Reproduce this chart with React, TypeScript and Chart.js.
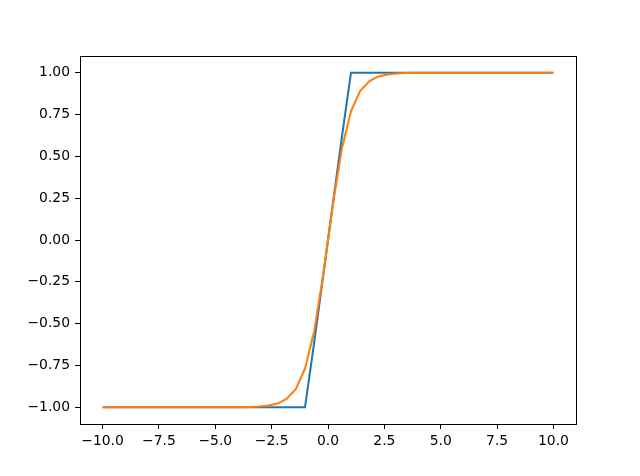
import React, { useEffect, useRef } from "react";
import { Chart, registerables } from "chart.js";

Chart.register(...registerables);

const xValues = [
  -10, -9.592, -9.184, -8.776, -8.367, -7.959, -7.551, -7.143, -6.735, -6.327,
  -5.918, -5.51, -5.102, -4.694, -4.286, -3.878, -3.469, -3.061, -2.653, -2.245,
  -1.837, -1.429, -1.02, -0.612, -0.204, 0.204, 0.612, 1.02, 1.429, 1.837,
  2.245, 2.653, 3.061, 3.469, 3.878, 4.286, 4.694, 5.102, 5.51, 5.918,
  6.327, 6.735, 7.143, 7.551, 7.959, 8.367, 8.776, 9.184, 9.592, 10,
];

const hardTanhValues = [
  -1, -1, -1, -1, -1, -1, -1, -1, -1, -1,
  -1, -1, -1, -1, -1, -1, -1, -1, -1, -1,
  -1, -1, -1, -0.612, -0.204, 0.204, 0.612, 1, 1, 1,
  1, 1, 1, 1, 1, 1, 1, 1, 1, 1,
  1, 1, 1, 1, 1, 1, 1, 1, 1, 1,
];

const tanhValues = [
  -1, -1, -1, -1, -1, -1, -1, -1, -1, -1,
  -1, -1, -0.9999, -0.9998, -0.9996, -0.9991, -0.9981, -0.9956, -0.9901, -0.9778,
  -0.9506, -0.8914, -0.7699, -0.5456, -0.2013, 0.2013, 0.5456, 0.7699, 0.8914, 0.9506,
  0.9778, 0.9901, 0.9956, 0.9981, 0.9991, 0.9996, 0.9998, 0.9999, 1, 1,
  1, 1, 1, 1, 1, 1, 1, 1, 1, 1,
];

const xTicks = [-10, -7.5, -5, -2.5, 0, 2.5, 5, 7.5, 10];
const yTicks = [-1, -0.75, -0.5, -0.25, 0, 0.25, 0.5, 0.75, 1];

const fmt = (v: number, d: number) => v.toFixed(d).replace("-", "\u2212");

const boxPlugin = {
  id: "box",
  afterDraw(chart: any) {
    const { ctx, chartArea } = chart;
    ctx.save();
    ctx.strokeStyle = "#000";
    ctx.lineWidth = 1;
    ctx.strokeRect(
      Math.round(chartArea.left) + 0.5,
      Math.round(chartArea.top) + 0.5,
      Math.round(chartArea.right - chartArea.left),
      Math.round(chartArea.bottom - chartArea.top)
    );
    ctx.restore();
  },
};

export default function App() {
  const ref = useRef<HTMLCanvasElement | null>(null);

  useEffect(() => {
    document.body.style.margin = "0";
    const canvas = ref.current;
    if (!canvas) return;
    const font = { family: "DejaVu Sans", size: 13.9 };
    const chart = new Chart(canvas, {
      type: "scatter",
      data: {
        datasets: [
          {
            data: xValues.map((x, i) => ({ x, y: hardTanhValues[i] })),
            showLine: true,
            borderColor: "#1f77b4",
            backgroundColor: "#1f77b4",
            borderWidth: 2.08,
            pointRadius: 0,
            pointHoverRadius: 0,
            order: 1,
          },
          {
            data: xValues.map((x, i) => ({ x, y: tanhValues[i] })),
            showLine: true,
            borderColor: "#ff7f0e",
            backgroundColor: "#ff7f0e",
            borderWidth: 2.08,
            pointRadius: 0,
            pointHoverRadius: 0,
            order: 0,
          },
        ],
      },
      plugins: [boxPlugin],
      options: {
        animation: false,
        responsive: false,
        devicePixelRatio: 1,
        layout: { padding: { left: 0, top: 56, right: 64, bottom: 0 } },
        plugins: { legend: { display: false }, tooltip: { enabled: false } },
        scales: {
          x: {
            type: "linear",
            min: -11,
            max: 11,
            afterBuildTicks: (s: any) => {
              s.ticks = xTicks.map((v) => ({ value: v }));
            },
            afterFit: (s: any) => {
              s.height = 52;
            },
            ticks: {
              callback: (v: any) => fmt(Number(v), 1),
              color: "#000",
              font,
              padding: 4,
              maxRotation: 0,
              autoSkip: false,
            },
            grid: {
              display: true,
              drawOnChartArea: false,
              drawTicks: true,
              tickLength: 5,
              tickColor: "#000",
              tickWidth: 1,
            },
            border: { display: true, color: "#000", width: 1 },
          },
          y: {
            type: "linear",
            min: -1.1,
            max: 1.1,
            afterBuildTicks: (s: any) => {
              s.ticks = yTicks.map((v) => ({ value: v }));
            },
            afterFit: (s: any) => {
              s.width = 80;
            },
            ticks: {
              callback: (v: any) => fmt(Number(v), 2),
              color: "#000",
              font,
              padding: 5,
              autoSkip: false,
            },
            grid: {
              display: true,
              drawOnChartArea: false,
              drawTicks: true,
              tickLength: 5,
              tickColor: "#000",
              tickWidth: 1,
            },
            border: { display: true, color: "#000", width: 1 },
          },
        },
      },
    } as any);
    return () => chart.destroy();
  }, []);

  return (
    <div style={{ width: 640, height: 476, background: "#fff" }}>
      <canvas ref={ref} width={640} height={476} style={{ display: "block" }} />
    </div>
  );
}
